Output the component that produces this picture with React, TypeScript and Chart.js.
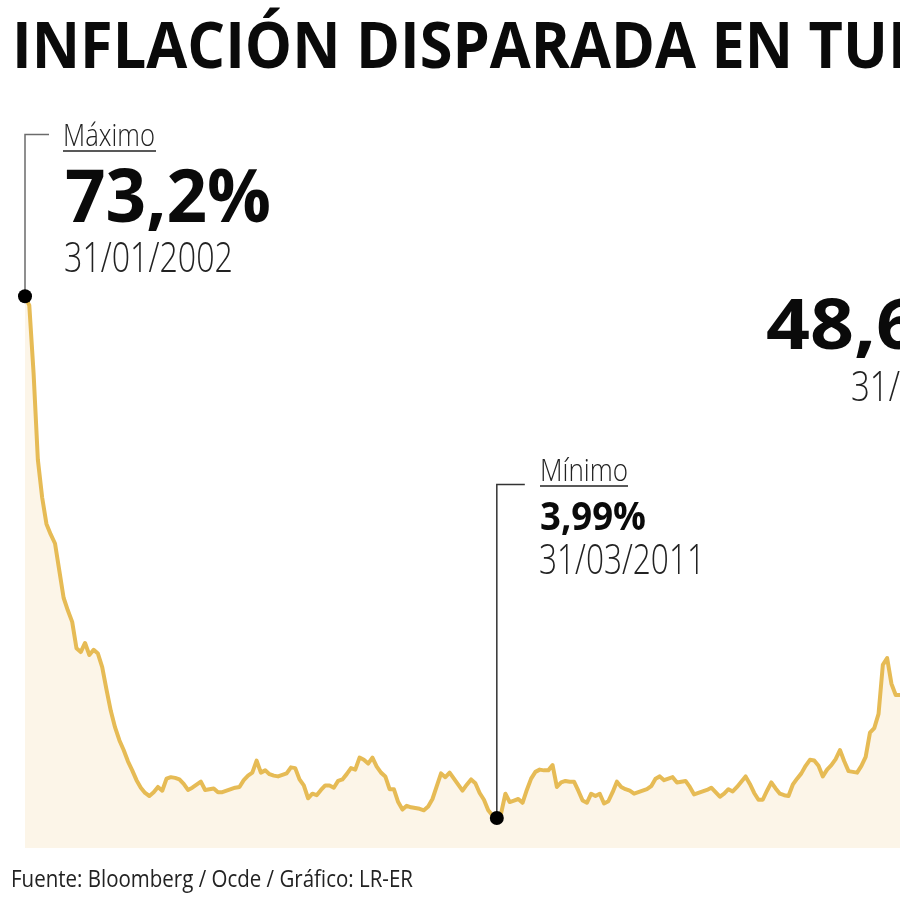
import React, { useEffect, useRef } from "react";
import { Chart, registerables } from "chart.js";

Chart.register(...registerables);

// ---- Data (monthly YoY inflation, Turkey, Jan 2002 onward, visible part) ----
const startYear = 2002;
const inflation: number[] = [
  // 2002
  73.2, 72.0, 63.0, 51.5, 46.5, 43.0, 41.6, 40.4, 36.8, 33.2, 31.5, 30.0,
  // 2003
  26.5, 26.0, 27.2, 25.6, 26.3, 25.8, 24.0, 21.0, 18.2, 16.0, 14.3, 13.0,
  // 2004
  11.5, 10.3, 9.0, 8.0, 7.3, 6.9, 7.4, 8.1, 7.6, 9.2, 9.4, 9.3,
  // 2005
  9.1, 8.5, 7.7, 8.0, 8.4, 8.8, 7.7, 7.8, 7.9, 7.4, 7.4, 7.6,
  // 2006
  7.8, 8.0, 8.1, 9.0, 9.6, 10.0, 11.6, 10.0, 10.3, 9.8, 9.6, 9.5,
  // 2007
  9.7, 9.9, 10.7, 10.6, 9.1, 8.3, 6.6, 7.2, 7.0, 7.7, 8.3, 8.3,
  // 2008
  8.0, 8.9, 9.1, 9.8, 10.6, 10.4, 12.0, 11.7, 11.2, 12.0, 10.8, 10.0,
  // 2009
  9.5, 7.8, 7.8, 6.1, 5.1, 5.6, 5.4, 5.3, 5.2, 5.0, 5.5, 6.5,
  // 2010
  8.2, 9.9, 9.4, 10.0, 9.2, 8.4, 7.6, 8.4, 9.1, 8.6, 7.3, 6.4,
  // 2011
  5.0, 4.3, 3.99, 4.6, 7.2, 6.1, 6.3, 6.5, 6.0, 7.7, 9.2, 10.1,
  // 2012
  10.4, 10.3, 10.3, 11.0, 8.1, 8.7, 8.9, 8.8, 8.8, 7.6, 6.3, 6.0,
  // 2013
  7.2, 6.9, 7.2, 5.9, 6.2, 7.4, 8.8, 8.1, 7.8, 7.6, 7.2, 7.4,
  // 2014
  7.6, 7.8, 8.2, 9.2, 9.5, 9.0, 9.2, 9.4, 8.7, 8.8, 8.9, 8.1,
  // 2015
  7.1, 7.3, 7.5, 7.7, 8.0, 7.4, 6.8, 7.2, 7.8, 7.5, 8.1, 8.8,
  // 2016
  9.5, 8.5, 7.3, 6.4, 6.4, 7.6, 8.7, 7.9, 7.2, 7.0, 6.9, 8.4,
  // 2017
  9.2, 9.9, 10.9, 11.7, 11.6, 10.9, 9.5, 10.4, 11.0, 11.8, 13.0, 11.5,
  // 2018
  10.2, 10.1, 10.0, 10.9, 12.1, 15.3, 15.9, 17.8, 24.3, 25.2, 21.8, 20.3,
  // 2019
  20.3,
];

const months: string[] = inflation.map((_, i) => {
  const y = startYear + Math.floor(i / 12);
  const m = (i % 12) + 1;
  return `${y}-${m < 10 ? "0" + m : m}`;
});

const maxIndex = 0;
const minIndex = 110;

const titleText = "INFLACIÓN DISPARADA EN TURQUÍA";
const sourceText = "Fuente: Bloomberg / Ocde / Gráfico: LR-ER";
const maxLabel = "Máximo";
const maxValueText = "73,2%";
const maxDate = "31/01/2002";
const minLabel = "Mínimo";
const minValueText = "3,99%";
const minDate = "31/03/2011";
const lastValueText = "48,6%";
const lastDate = "31/01/2022";

const LINE = "#E6BB55";
const FILL = "#FCF5E8";
const FONT = "'Open Sans', 'Noto Sans', sans-serif";

function fitText(
  ctx: CanvasRenderingContext2D,
  text: string,
  x: number,
  y: number,
  font: string,
  refText: string,
  refWidth: number,
  color: string
) {
  ctx.save();
  ctx.font = font;
  ctx.fillStyle = color;
  ctx.textBaseline = "alphabetic";
  ctx.textAlign = "left";
  const w = ctx.measureText(refText).width;
  const s = refWidth / w;
  ctx.translate(x, y);
  ctx.scale(s, 1);
  ctx.fillText(text, 0, 0);
  ctx.restore();
}

const leaderPlugin = {
  id: "leaders",
  beforeDatasetsDraw(chart: any) {
    const ctx: CanvasRenderingContext2D = chart.ctx;
    const xs = chart.scales.x;
    const ys = chart.scales.y;
    ctx.save();
    ctx.lineWidth = 1.5;
    // max leader
    const x0 = xs.getPixelForValue(maxIndex);
    const y0 = ys.getPixelForValue(inflation[maxIndex]);
    ctx.strokeStyle = "#6b6b6b";
    ctx.beginPath();
    ctx.moveTo(x0, y0);
    ctx.lineTo(x0, 134.5);
    ctx.lineTo(x0 + 24, 134.5);
    ctx.stroke();
    // min leader
    const x1 = xs.getPixelForValue(minIndex);
    const y1 = ys.getPixelForValue(inflation[minIndex]);
    ctx.strokeStyle = "#333";
    ctx.beginPath();
    ctx.moveTo(x1, y1);
    ctx.lineTo(x1, 484.5);
    ctx.lineTo(x1 + 28, 484.5);
    ctx.stroke();
    ctx.restore();
  },
};

const textPlugin = {
  id: "texts",
  afterDraw(chart: any) {
    const ctx: CanvasRenderingContext2D = chart.ctx;
    // title
    fitText(ctx, titleText, 12, 68, `700 64px ${FONT}`, "INFLACIÓN DISPARADA EN TU", 876, "#0a0a0a");
    // max annotation
    fitText(ctx, maxLabel, 63, 146, `300 31px ${FONT}`, maxLabel, 92, "#222");
    ctx.save();
    ctx.strokeStyle = "#222";
    ctx.lineWidth = 1.5;
    ctx.beginPath();
    ctx.moveTo(63, 151);
    ctx.lineTo(156, 151);
    ctx.stroke();
    ctx.restore();
    fitText(ctx, maxValueText, 65, 222, `700 74px ${FONT}`, maxValueText, 206, "#0a0a0a");
    fitText(ctx, maxDate, 64, 272, `300 43px ${FONT}`, maxDate, 169, "#222");
    // min annotation
    fitText(ctx, minLabel, 540, 481, `300 31px ${FONT}`, minLabel, 88, "#222");
    ctx.save();
    ctx.strokeStyle = "#222";
    ctx.lineWidth = 1.5;
    ctx.beginPath();
    ctx.moveTo(540, 486);
    ctx.lineTo(628, 486);
    ctx.stroke();
    ctx.restore();
    fitText(ctx, minValueText, 540, 530, `700 39px ${FONT}`, minValueText, 106, "#0a0a0a");
    fitText(ctx, minDate, 539, 574, `300 43px ${FONT}`, minDate, 166, "#222");
    // last value annotation (cut off at right edge)
    fitText(ctx, lastValueText, 766, 349, `700 70px ${FONT}`, "48,", 110, "#0a0a0a");
    fitText(ctx, lastDate, 851, 401, `300 43px ${FONT}`, "31/", 49, "#222");
    // source
    fitText(ctx, sourceText, 11, 887, `400 23px ${FONT}`, sourceText, 402, "#222");
  },
};

export default function App() {
  const ref = useRef<HTMLCanvasElement | null>(null);

  useEffect(() => {
    document.body.style.margin = "0";
    const canvas = ref.current;
    if (!canvas) return;
    const chart = new Chart(canvas, {
      type: "line",
      data: {
        labels: months,
        datasets: [
          {
            data: inflation,
            borderColor: LINE,
            borderWidth: 4,
            borderJoinStyle: "round",
            backgroundColor: FILL,
            fill: "origin",
            tension: 0,
            clip: false as any,
            pointRadius: (c: any) => (c.dataIndex === maxIndex || c.dataIndex === minIndex ? 7 : 0),
            pointHoverRadius: 0,
            pointBackgroundColor: "#000",
            pointBorderColor: "#000",
            pointBorderWidth: 0,
          },
        ],
      },
      options: {
        responsive: false,
        maintainAspectRatio: false,
        animation: false,
        layout: { autoPadding: false, padding: { left: 25, right: 0, top: 245, bottom: 52 } },
        plugins: {
          legend: { display: false },
          tooltip: { enabled: false },
          title: { display: false },
        },
        scales: {
          x: { type: "category", display: false, offset: false },
          y: { type: "linear", display: false, min: 0, max: 80 },
        },
      },
      plugins: [leaderPlugin, textPlugin],
    });
    return () => chart.destroy();
  }, []);

  return (
    <div style={{ width: 900, height: 900, overflow: "hidden", background: "#fff" }}>
      <canvas ref={ref} width={900} height={900} style={{ display: "block" }} />
    </div>
  );
}
